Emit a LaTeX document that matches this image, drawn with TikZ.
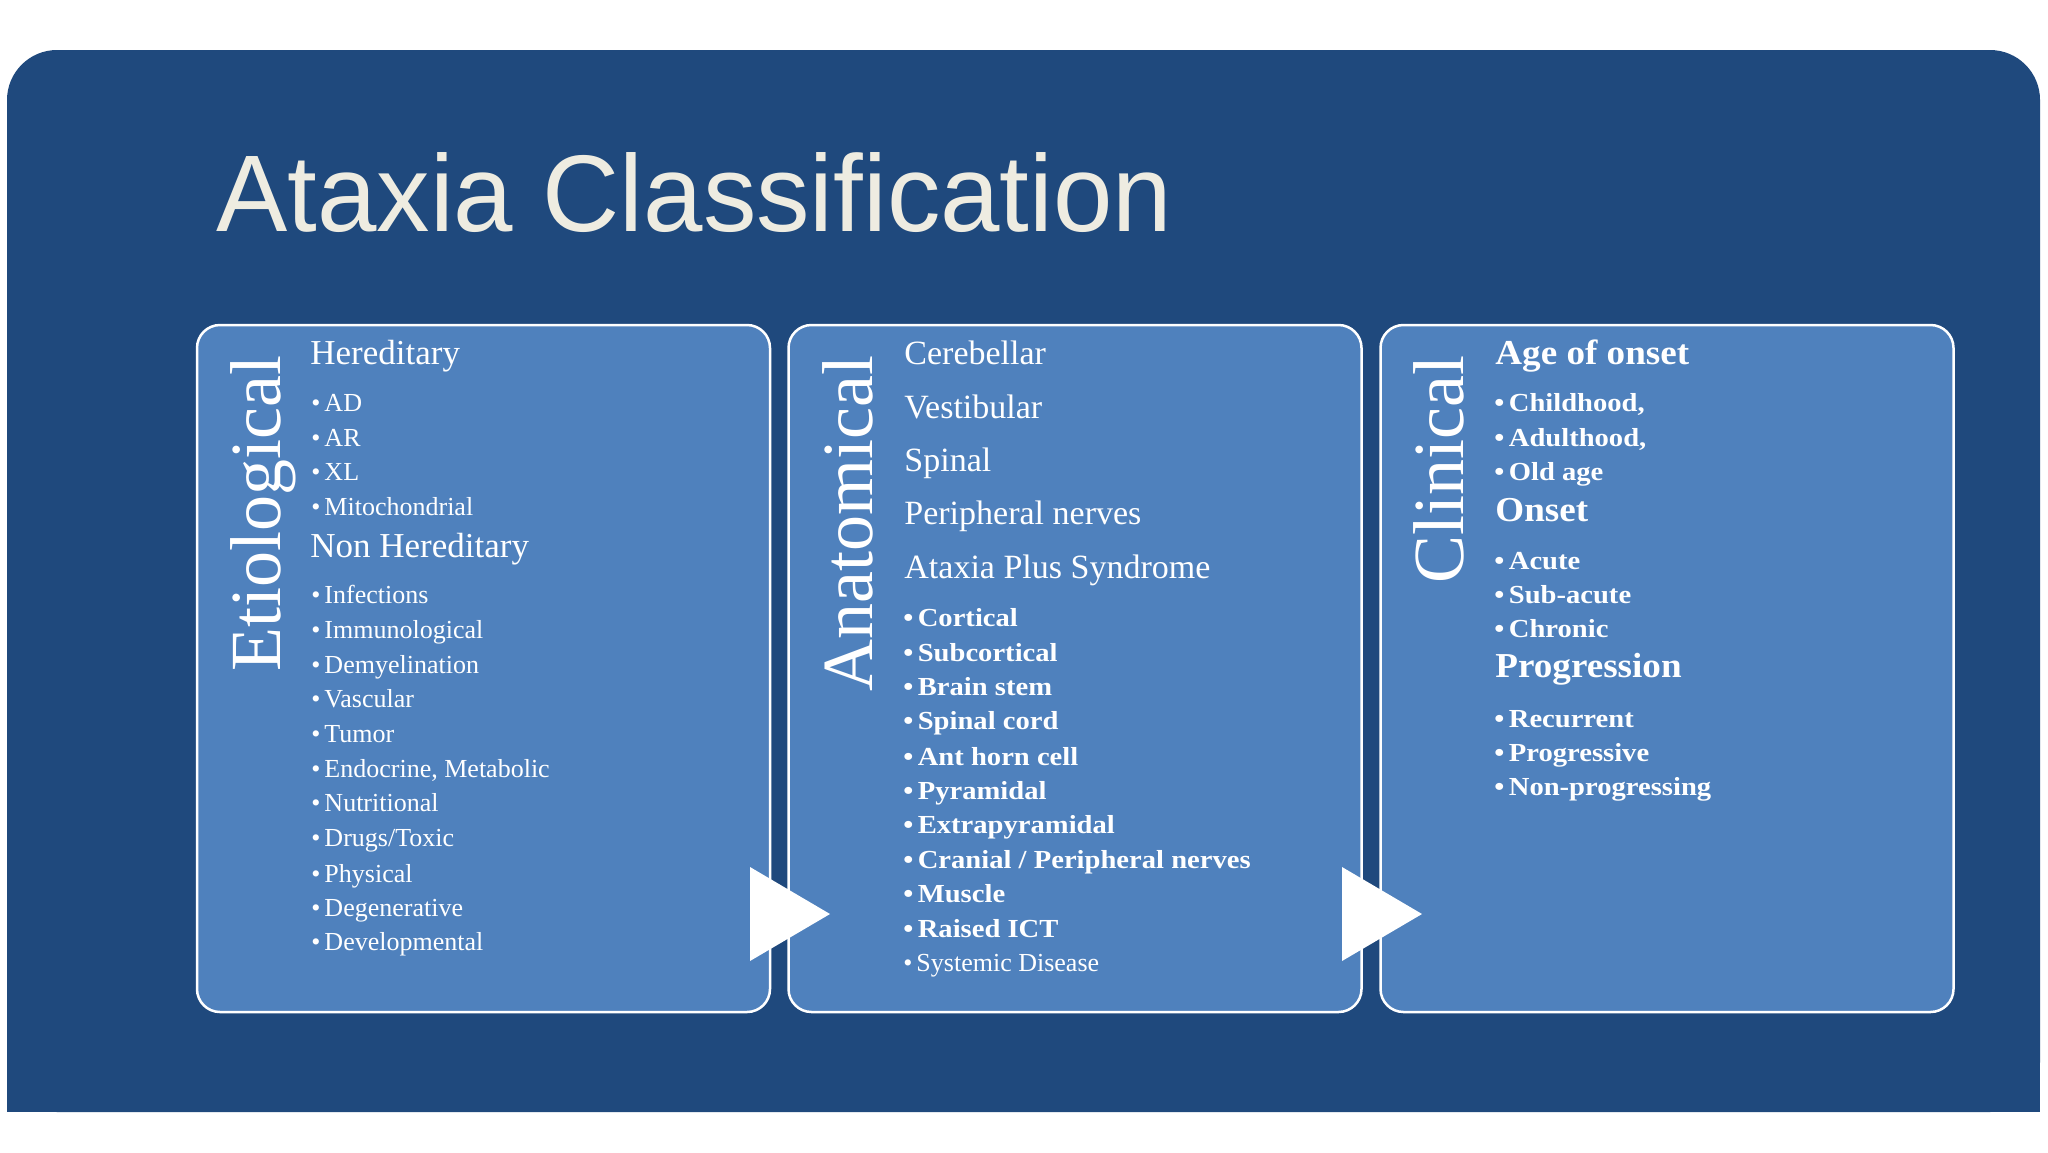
\documentclass[tikz,border=0pt]{standalone}
\usepackage{fontspec}
\setmainfont{Liberation Serif}
\newfontfamily\titlefont{Liberation Sans}
\definecolor{panelblue}{HTML}{1F497D}
\definecolor{boxblue}{HTML}{4F81BD}
\definecolor{titlecol}{HTML}{EEECE1}
\newcommand{\bulit}{\textbullet\hspace{2pt}}
\begin{document}
\begin{tikzpicture}[x=0.5pt,y=-0.5pt,
  box/.style={draw=white, line width=1.25pt, fill=boxblue, rounded corners=11.5pt,
    minimum width=286.5pt, minimum height=343.5pt, inner sep=0pt},
  vlabel/.style={rotate=90, anchor=base east, inner sep=0pt, text=white,
    font=\fontsize{36}{40}\selectfont},
  head/.style={anchor=base west, inner sep=0pt, text=white, font=\fontsize{17.5}{20}\selectfont},
  heads/.style={head, font=\fontsize{17}{20}\selectfont},
  headb/.style={head, xscale=1.06, font=\fontsize{17.5}{20}\selectfont\bfseries},
  item/.style={anchor=base west, inner sep=0pt, text=white, font=\fontsize{13}{15}\selectfont},
  itemb/.style={item, xscale=1.1, font=\fontsize{13}{15}\selectfont\bfseries},
  tri/.style={fill=white, draw=none}]
\useasboundingbox (0,0) rectangle (2048,1152);
\fill[white] (0,0) rectangle (2048,1152);
% panel
\fill[panelblue, rounded corners=25pt] (7,50) rectangle (2040,1112);
\fill[panelblue] (7,500) rectangle (2040,1112);
% title
\node[anchor=base west, inner sep=0pt, text=titlecol, xscale=0.98,
  font=\titlefont\fontsize{54.5}{60}\selectfont] (title) at (216,231) {Ataxia Classification};
% boxes
\node[box] (b1) at (483.5,668.5) {};
\node[box] (b2) at (1075,668.5) {};
\node[box] (b3) at (1667,668.5) {};
% arrows
\fill[tri] (750,867) -- (830,914) -- (750,961) -- cycle;
\fill[tri] (1342,867) -- (1422,914) -- (1342,961) -- cycle;
% vertical labels
\node[vlabel] (v1) at (280,355) {Etiological};
\node[vlabel] (v2) at (872,355) {Anatomical};
\node[vlabel] (v3) at (1463,355) {Clinical};
% box 1
\node[head] (h11) at (310,364) {Hereditary};
\node[item] (i11) at (311,411) {\bulit AD};
\node[item] (i12) at (311,446) {\bulit AR};
\node[item] (i13) at (311,480) {\bulit XL};
\node[item] (i14) at (311,515) {\bulit Mitochondrial};
\node[head] (h12) at (310,557) {Non Hereditary};
\node[item] (i15) at (311,603) {\bulit Infections};
\node[item] (i16) at (311,638) {\bulit Immunological};
\node[item] (i17) at (311,673) {\bulit Demyelination};
\node[item] (i18) at (311,707) {\bulit Vascular};
\node[item] (i19) at (311,742) {\bulit Tumor};
\node[item] (i110) at (311,777) {\bulit Endocrine, Metabolic};
\node[item] (i111) at (311,811) {\bulit Nutritional};
\node[item] (i112) at (311,846) {\bulit Drugs/Toxic};
\node[item] (i113) at (311,882) {\bulit Physical};
\node[item] (i114) at (311,916) {\bulit Degenerative};
\node[item] (i115) at (311,950) {\bulit Developmental};
% box 2
\node[heads] (h21) at (904,364) {Cerebellar};
\node[heads] (h22) at (904,418) {Vestibular};
\node[heads] (h23) at (904,471) {Spinal};
\node[heads] (h24) at (904,524) {Peripheral nerves};
\node[heads] (h25) at (904,578) {Ataxia Plus Syndrome};
\node[itemb] (i21) at (903,626) {\bulit Cortical};
\node[itemb] (i22) at (903,661) {\bulit Subcortical};
\node[itemb] (i23) at (903,695) {\bulit Brain stem};
\node[itemb] (i24) at (903,729) {\bulit Spinal cord};
\node[itemb] (i25) at (903,765) {\bulit Ant horn cell};
\node[itemb] (i26) at (903,799) {\bulit Pyramidal};
\node[itemb] (i27) at (903,833) {\bulit Extrapyramidal};
\node[itemb] (i28) at (903,868) {\bulit Cranial / Peripheral nerves};
\node[itemb] (i29) at (903,902) {\bulit Muscle};
\node[itemb] (i210) at (903,937) {\bulit Raised ICT};
\node[item] (i211) at (903,971) {\bulit Systemic Disease};
% box 3
\node[headb] (h31) at (1495,364) {Age of onset};
\node[itemb] (i31) at (1494,411) {\bulit Childhood,};
\node[itemb] (i32) at (1494,446) {\bulit Adulthood,};
\node[itemb] (i33) at (1494,480) {\bulit Old age};
\node[headb] (h32) at (1495,521) {Onset};
\node[itemb] (i34) at (1494,569) {\bulit Acute};
\node[itemb] (i35) at (1494,603) {\bulit Sub-acute};
\node[itemb] (i36) at (1494,637) {\bulit Chronic};
\node[headb] (h33) at (1495,677) {Progression};
\node[itemb] (i37) at (1494,727) {\bulit Recurrent};
\node[itemb] (i38) at (1494,761) {\bulit Progressive};
\node[itemb] (i39) at (1494,795) {\bulit Non-progressing};
\end{tikzpicture}
\end{document}
